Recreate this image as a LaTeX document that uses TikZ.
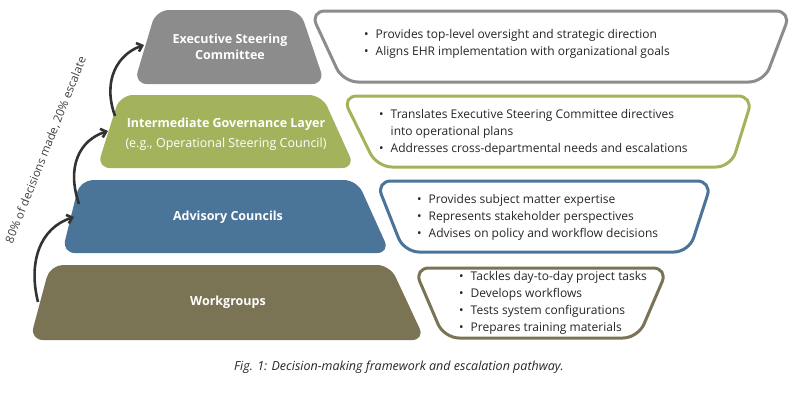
\documentclass[tikz,border=0pt]{standalone}
\usepackage{fontspec}
\setmainfont{Open Sans}
\usetikzlibrary{arrows.meta}
\definecolor{cgray}{HTML}{8C8C8C}
\definecolor{cgreen}{HTML}{A3B35B}
\definecolor{cblue}{HTML}{4B7499}
\definecolor{colive}{HTML}{7A7354}
\definecolor{carrow}{HTML}{333333}
\tikzset{
  layer/.style={rounded corners=13pt},
  infobox/.style={rounded corners=15pt, line width=3pt, fill=white},
  title/.style={text=white, font=\fontsize{12.5}{16}\selectfont\bfseries, align=center},
  sub/.style={text=white, font=\fontsize{12.5}{17}\selectfont, align=center},
  bullets/.style={anchor=west, inner sep=0pt, text=black!85, font=\fontsize{12}{17}\selectfont},
  esc/.style={draw=carrow, line width=2.6pt, -{Straight Barb[length=5pt,width=9pt]}},
}
\newcommand{\bl}{\textbullet}
\begin{document}
\begin{tikzpicture}[x=1pt,y=-1pt]
\useasboundingbox (0,0) rectangle (800,400);
% layers
\fill[cgray,layer] (156,10) -- (300,10) -- (325,84) -- (134,84) -- cycle;
\fill[cgreen,layer] (120,95) -- (322,95) -- (355,168) -- (97,168) -- cycle;
\fill[cblue,layer] (80,180) -- (357,180) -- (390,253) -- (62,253) -- cycle;
\fill[colive,layer] (50,265) -- (390,265) -- (425,340) -- (30,340) -- cycle;
% info boxes
\draw[cgray,infobox] (310,11) -- (791,11) -- (764,82) -- (343,82) -- cycle;
\draw[cgreen,infobox] (342,96) -- (753,96) -- (731,167) -- (377,167) -- cycle;
\draw[cblue,infobox] (376,181) -- (712,181) -- (689,252) -- (404,252) -- cycle;
\draw[colive,infobox] (414,268) -- (668,268) -- (638,338) -- (444,338) -- cycle;
% titles
\node[title] (exec) at (230,47) {Executive Steering\\Committee};
\node[title, anchor=base] (inter) at (226,127) {Intermediate Governance Layer};
\node[sub, anchor=base] (intersub) at (226,147) {(e.g., Operational Steering Council)};
\node[title] (adv) at (228,217) {Advisory Councils};
\node[title] (work) at (228,302) {Workgroups};
% bullets
\node[bullets] (bexec) at (364,44) {\begin{tabular}{@{}l@{\hspace{7pt}}l@{}}
\bl & Provides top-level oversight and strategic direction\\
\bl & Aligns EHR implementation with organizational goals
\end{tabular}};
\node[bullets] (binter) at (379,132) {\begin{tabular}{@{}l@{\hspace{7pt}}l@{}}
\bl & Translates Executive Steering Committee directives\\
 & into operational plans\\
\bl & Addresses cross-departmental needs and escalations
\end{tabular}};
\node[bullets] (badv) at (417,217) {\begin{tabular}{@{}l@{\hspace{7pt}}l@{}}
\bl & Provides subject matter expertise\\
\bl & Represents stakeholder perspectives\\
\bl & Advises on policy and workflow decisions
\end{tabular}};
\node[bullets] (bwork) at (459,303) {\begin{tabular}{@{}l@{\hspace{7pt}}l@{}}
\bl & Tackles day-to-day project tasks\\
\bl & Develops workflows\\
\bl & Tests system configurations\\
\bl & Prepares training materials
\end{tabular}};
% escalation arrows
\coordinate (s1) at (38,302);
\coordinate (e1) at (74,217);
\coordinate (s2) at (79,204);
\coordinate (e2) at (108,131);
\coordinate (s3) at (115,116);
\coordinate (e3) at (144,45);
\draw[esc] (s1) .. controls (28,262) and (40,228) .. (e1);
\draw[esc] (s2) .. controls (66,166) and (80,140) .. (e2);
\draw[esc] (s3) .. controls (102,80) and (118,54) .. (e3);
% rotated label
\node[rotate=68.3, text=black!75, font=\fontsize{11.6}{13}\selectfont] (lbl) at (46,150) {80\% of decisions made, 20\% escalate};
% caption
\node[font=\fontsize{12.5}{14}\selectfont\itshape, text=black!85] (cap) at (399,367) {Fig. 1: Decision-making framework and escalation pathway.};
\end{tikzpicture}
\end{document}
